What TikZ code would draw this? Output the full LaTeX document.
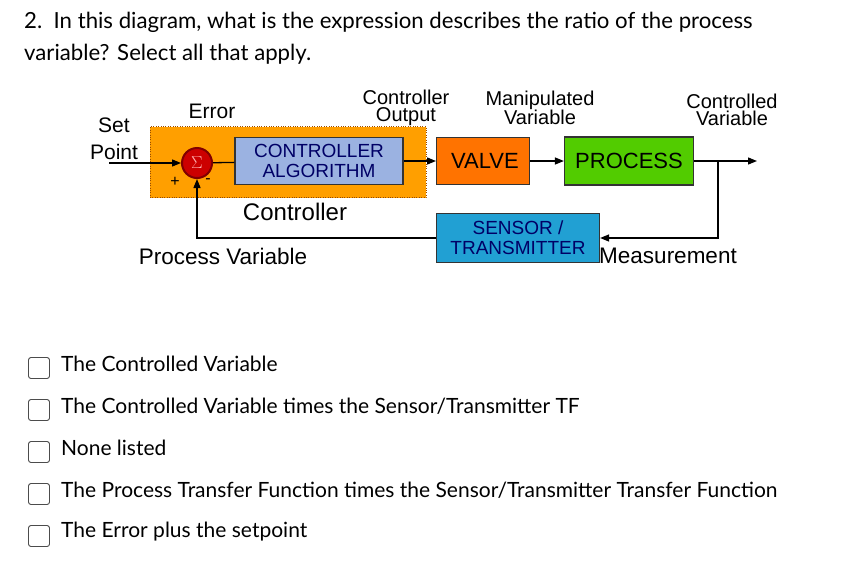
\documentclass[tikz,border=0pt]{standalone}
\usepackage{fontspec}
\setmainfont{Lato}
\newfontfamily\dgm{Liberation Sans}
\usetikzlibrary{arrows.meta}
\begin{document}
\begin{tikzpicture}[x=1pt,y=-1pt,
 blk/.style={draw=black!80,line width=1.2pt,inner sep=0pt,font=\dgm\fontsize{22}{18}\selectfont},
 lbl/.style={font=\dgm\fontsize{20}{17}\selectfont,align=center,inner sep=0pt},
 ln/.style={line width=1.3pt,-{Triangle[length=9pt,width=7pt]}},
 pl/.style={line width=1.3pt},
 q/.style={font=\fontsize{22.2}{22}\selectfont,anchor=west,inner sep=0pt},
 cb/.style={draw=black!70,line width=0.9pt,rounded corners=2.5pt,minimum size=21pt,inner sep=0pt}]
\useasboundingbox[fill=white] (0,0) rectangle (866,565);
\node[q] (q1) at (24,22) {2.\ \ In this diagram, what is the expression describes the ratio of the process};
\node[q] (q2) at (24,54) {variable? Select all that apply.};
% controller area
\node[fill=orange!75!yellow,draw=orange!60!black,dotted,minimum width=276pt,minimum height=71pt,inner sep=0pt] (ctl) at (288,162) {};
\node[blk,fill=cyan!45!blue!40,minimum width=168pt,minimum height=47pt,align=center,text=blue!40!black,font=\dgm\fontsize{19}{20}\selectfont] (alg) at (319,161) {CONTROLLER\\ALGORITHM};
\node[circle,fill=red!80!black,draw=red!50!black,line width=2pt,minimum size=30pt,inner sep=0pt,text=white!70!red,font=\LARGE] (sum) at (197,163) {$\Sigma$};
\node[blk,fill=orange!90!red,minimum width=93pt,minimum height=47pt,anchor=west] (valve) at (436,161) {\,VALVE\hfill};
\node[blk,fill=green!60!yellow!80!black,minimum width=129pt,minimum height=48pt] (proc) at (629,161) {PROCESS};
\node[blk,fill=cyan!70!teal,minimum width=163pt,minimum height=49pt,align=center,text=blue!40!black,font=\dgm\fontsize{19}{20}\selectfont] (sens) at (518,238) {SENSOR /\\TRANSMITTER};
\coordinate (sp) at (109,163);
\coordinate (out) at (757,161);
\coordinate (br) at (718,161);
\coordinate (brd) at (718,238);
\coordinate (fb) at (197,238);
\draw[ln] (sp) -- (sum);
\draw[pl] (sum) -- (alg);
\draw[ln] (alg) -- (valve);
\draw[ln] (valve) -- (proc);
\draw[ln] (proc) -- (out);
\draw[ln] (br) -- (brd) -- (sens.east |- brd);
\draw[ln] (sens.west |- fb) -- (fb) -- (sum);
\node[lbl,font=\dgm\fontsize{16}{16}\selectfont] at (175,182) {+};
\node[lbl,font=\dgm\fontsize{16}{16}\selectfont] at (208,181) {-};
\node[lbl,font=\dgm\fontsize{21}{27}\selectfont] (setp) at (114,139) {Set\\Point};
\node[lbl,font=\dgm\fontsize{21}{17}\selectfont] (err) at (212,111) {Error};
\node[lbl] (co) at (406,108) {Controller\\Output};
\node[lbl] (mv) at (540,108) {Manipulated\\Variable};
\node[lbl] (cv) at (732,110) {Controlled\\Variable};
\node[lbl,font=\dgm\fontsize{24}{15}\selectfont] (cn) at (295,212) {Controller};
\node[lbl,font=\dgm\fontsize{22.5}{15}\selectfont] (pv) at (223,256) {Process Variable};
\node[lbl,font=\dgm\fontsize{22.5}{15}\selectfont] (ms) at (668,256) {Measurement};
% options
\foreach \y/\t [count=\i] in {364/{The Controlled Variable},406/{The Controlled Variable times the Sensor/Transmitter TF},448/{None listed},490/{The Process Transfer Function times the Sensor/Transmitter Transfer Function},532/{The Error plus the setpoint}}{
 \node[cb] (b\i) at (39,\y+4) {};
 \node[q,font=\fontsize{21}{20}\selectfont] (o\i) at (61,\y) {\t};
}
\end{tikzpicture}
\end{document}
